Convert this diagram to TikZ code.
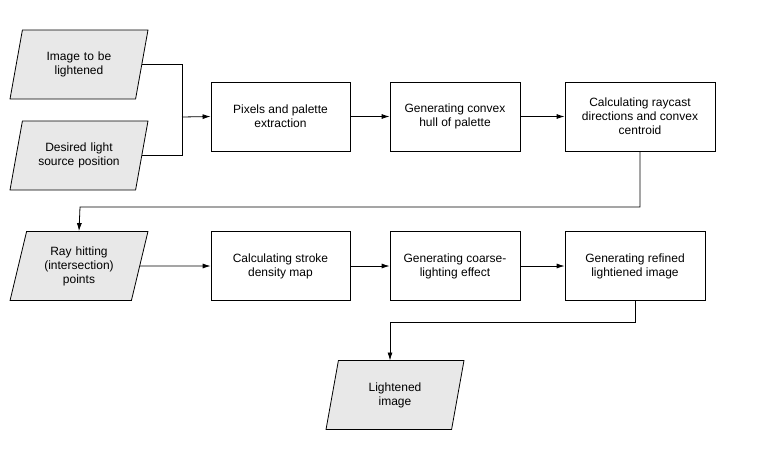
\documentclass[tikz,border=0pt]{standalone}
\usepackage{fontspec}
\setmainfont{Liberation Sans}
\usetikzlibrary{shapes.geometric,arrows.meta}
\begin{document}
\begin{tikzpicture}[x=1pt,y=-1pt,
  every node/.style={font=\fontsize{12}{14}\selectfont, align=center},
  io/.style={trapezium, trapezium left angle=71.6, trapezium right angle=108.4, trapezium stretches=true, draw, fill=black!9, minimum width=138, minimum height=69, text width=90},
  box/.style={rectangle, draw, fill=white, minimum height=69},
  arr/.style={-{Latex[length=8pt,width=5pt]}},
  line width=0.8pt]
\useasboundingbox (0,0) rectangle (774,448);
\node[io] (img) at (79,64.5) {Image to be\\lightened};
\node[io] (light) at (79,155.5) {Desired light\\source position};
\node[box, minimum width=139] (b1) at (280.5,116.5) {Pixels and palette\\extraction};
\node[box, minimum width=130] (b2) at (455,116.5) {Generating convex\\hull of palette};
\node[box, minimum width=150] (b3) at (640,116.5) {Calculating raycast\\directions and convex\\centroid};
\node[io] (ray) at (79,266) {Ray hitting\\(intersection)\\points};
\node[box, minimum width=139] (b4) at (280.5,266) {Calculating stroke\\density map};
\node[box, minimum width=130] (b5) at (455,266) {Generating coarse-\\lighting effect};
\node[box, minimum width=140] (b6) at (635,266) {Generating refined\\lightiened image};
\node[io] (out) at (395,395) {Lightened\\image};
\coordinate (j) at (182,117);
\draw (img.east) -| (j);
\draw (light.east) -| (j);
\draw[arr] (j) -- (b1.west);
\draw[arr] (b1) -- (b2);
\draw[arr] (b2) -- (b3);
\draw[arr] (b3.south) |- (80,207) -- (ray.north);
\draw[arr] (ray) -- (b4);
\draw[arr] (b4) -- (b5);
\draw[arr] (b5) -- (b6);
\draw[arr] (b6.south) |- (390,322) -- (390,360.5);
\end{tikzpicture}
\end{document}
